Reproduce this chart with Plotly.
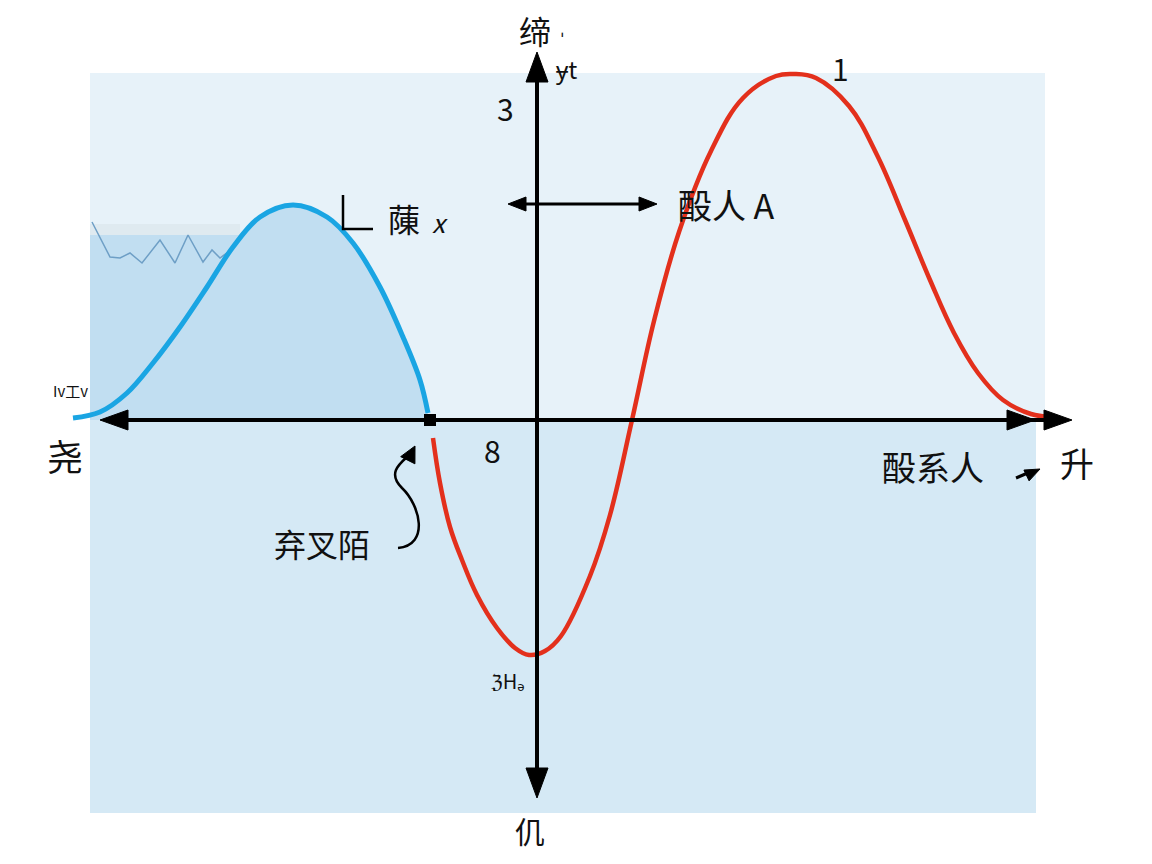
import plotly.graph_objects as go

# curve values (y axis at x=0, x axis at y=0)
blue_x = [-4.64, -4.37, -4.10, -3.84, -3.57, -3.30, -3.04, -2.77, -2.44, -2.10, -1.84, -1.57, -1.34, -1.17, -1.09]
blue_y = [0.02, 0.08, 0.27, 0.57, 0.93, 1.33, 1.73, 2.03, 2.15, 2.03, 1.77, 1.33, 0.83, 0.40, 0.07]

red_x = [-1.04, -0.97, -0.87, -0.75, -0.60, -0.40, -0.22, -0.08, 0.08, 0.24, 0.53, 0.73, 0.95, 1.17, 1.42, 1.74,
         2.06, 2.39, 2.57, 2.79, 3.12, 3.40, 3.68, 3.93, 4.17, 4.41, 4.66, 4.94, 5.13]
red_y = [-0.18, -0.63, -1.07, -1.40, -1.75, -2.08, -2.28, -2.35, -2.31, -2.16, -1.56, -0.95, 0.00, 0.99, 1.88, 2.69,
         3.22, 3.44, 3.46, 3.42, 3.14, 2.65, 2.00, 1.40, 0.87, 0.47, 0.20, 0.06, 0.03]

wave_x = [-4.45, -4.27, -4.17, -4.07, -3.95, -3.77, -3.62, -3.49, -3.34, -3.25, -3.17, -3.09]
wave_y = [1.98, 1.63, 1.62, 1.67, 1.57, 1.80, 1.57, 1.85, 1.58, 1.70, 1.62, 1.68]

shelf_x = [-4.47, -4.47, -2.94]
shelf_y = [0.0, 1.85, 1.85]

marker_x = [-1.07]
marker_y = [0.0]

FONT = "Noto Sans CJK SC, Noto Sans, sans-serif"
PAGE_PAD = 8  # the page body margin shifts the plot by this many pixels


def X(px):
    return (px - 537) / 100


def Y(py):
    return (420 - py) / 100


fig = go.Figure()

# shaded area under the blue hump
fill_x = shelf_x + [x for x in blue_x if x > shelf_x[-1]] + [blue_x[-1]]
fill_y = shelf_y + [y for x, y in zip(blue_x, blue_y) if x > shelf_x[-1]] + [0.0]
fig.add_trace(go.Scatter(x=fill_x, y=fill_y, fill='toself', fillcolor='#c1def1',
                         mode='lines', line=dict(width=0), hoverinfo='skip'))
fig.add_trace(go.Scatter(x=wave_x, y=wave_y, mode='lines', line=dict(color='#6e9fc6', width=1.5)))
fig.add_trace(go.Scatter(x=blue_x, y=blue_y, mode='lines', line=dict(color='#1aa5e3', width=5, shape='spline')))
fig.add_trace(go.Scatter(x=red_x, y=red_y, mode='lines',
                         line=dict(color='#e3301c', width=4.5, shape='spline', smoothing=1.1)))
fig.add_trace(go.Scatter(x=marker_x, y=marker_y, mode='markers',
                         marker=dict(symbol='square', size=12, color='black')))

shapes = [
    dict(type='rect', x0=X(90), x1=X(1045), y0=Y(420), y1=Y(73), fillcolor='#e7f2f9', line_width=0, layer='below'),
    dict(type='rect', x0=X(90), x1=X(1036), y0=Y(813), y1=Y(420), fillcolor='#d5e9f5', line_width=0, layer='below'),
    dict(type='rect', x0=X(90), x1=X(240), y0=Y(236), y1=Y(224), fillcolor='#dfeaf0', line_width=0, layer='below'),
    # axes
    dict(type='line', x0=X(110), x1=X(1060), y0=0, y1=0, line=dict(color='black', width=4)),
    dict(type='line', x0=0, x1=0, y0=Y(70), y1=Y(785), line=dict(color='black', width=4)),
    dict(type='line', x0=X(518), x1=X(648), y0=Y(204), y1=Y(204), line=dict(color='black', width=3)),
    # L bracket
    dict(type='path', path=f'M {X(343)},{Y(195)} L {X(343)},{Y(229)} L {X(373)},{Y(229)}',
         line=dict(color='black', width=2.5)),
    # curved pointer
    dict(type='path',
         path=f'M {X(398)},{Y(548)} C {X(430)},{Y(545)} {X(420)},{Y(505)} {X(402)},{Y(488)} '
              f'C {X(388)},{Y(474)} {X(398)},{Y(465)} {X(407)},{Y(457)}',
         line=dict(color='black', width=2.5)),
    # short pointer before the last label
    dict(type='line', x0=X(1016), x1=X(1030), y0=Y(478), y1=Y(472), line=dict(color='black', width=3)),
]


def tri(tx, ty, dx, dy, length, half):
    # filled arrowhead with tip at (tx, ty) pixel, pointing along (dx, dy)
    bx, by = tx - dx * length, ty - dy * length
    px, py = -dy * half, dx * half
    return dict(type='path', fillcolor='black', line=dict(color='black', width=1),
                path=f'M {X(tx)},{Y(ty)} L {X(bx + px)},{Y(by + py)} L {X(bx - px)},{Y(by - py)} Z')


shapes += [
    tri(100, 420, -1, 0, 28, 10),
    tri(1035, 420, 1, 0, 28, 10),
    tri(1072, 420, 1, 0, 28, 10),
    tri(537, 52, 0, -1, 30, 11),
    tri(537, 798, 0, 1, 30, 11),
    tri(508, 204, -1, 0, 18, 7),
    tri(657, 204, 1, 0, 18, 7),
    tri(415, 446, 0.45, -0.89, 16, 8),
    tri(1040, 469, 0.9, -0.43, 15, 6),
]

labels = [
    ('缔', 535, 30, 32), ('ˈ', 562, 38, 16), ('ɏt', 566, 68, 24),
    ('3', 505, 108, 30), ('1', 840, 68, 30),
    ('蔯', 404, 218, 32), ('<i>x</i>', 440, 221, 26),
    ('酘人 A', 726, 204, 34),
    ('Iv工v', 70, 390, 15), ('尧', 65, 455, 36),
    ('8', 492, 450, 30),
    ('弃叉陌', 322, 543, 32),
    ('ℨHₔ', 508, 680, 20),
    ('仉', 530, 830, 30),
    ('酘系人', 933, 466, 34), ('升', 1077, 462, 34),
]
annotations = [dict(x=X(px), y=Y(py), text=t, showarrow=False, xanchor='center', yanchor='middle',
                    font=dict(family=FONT, size=s, color='#111'))
               for t, px, py, s in labels]

fig.update_layout(
    width=1152, height=864,
    margin=dict(l=0, r=0, t=0, b=0),
    paper_bgcolor='white', plot_bgcolor='white',
    showlegend=False,
    xaxis=dict(range=[X(PAGE_PAD), X(1152 + PAGE_PAD)], visible=False, fixedrange=True),
    yaxis=dict(range=[Y(864 + PAGE_PAD), Y(PAGE_PAD)], visible=False, fixedrange=True),
    shapes=shapes,
    annotations=annotations,
)

fig.write_html("out.html")
